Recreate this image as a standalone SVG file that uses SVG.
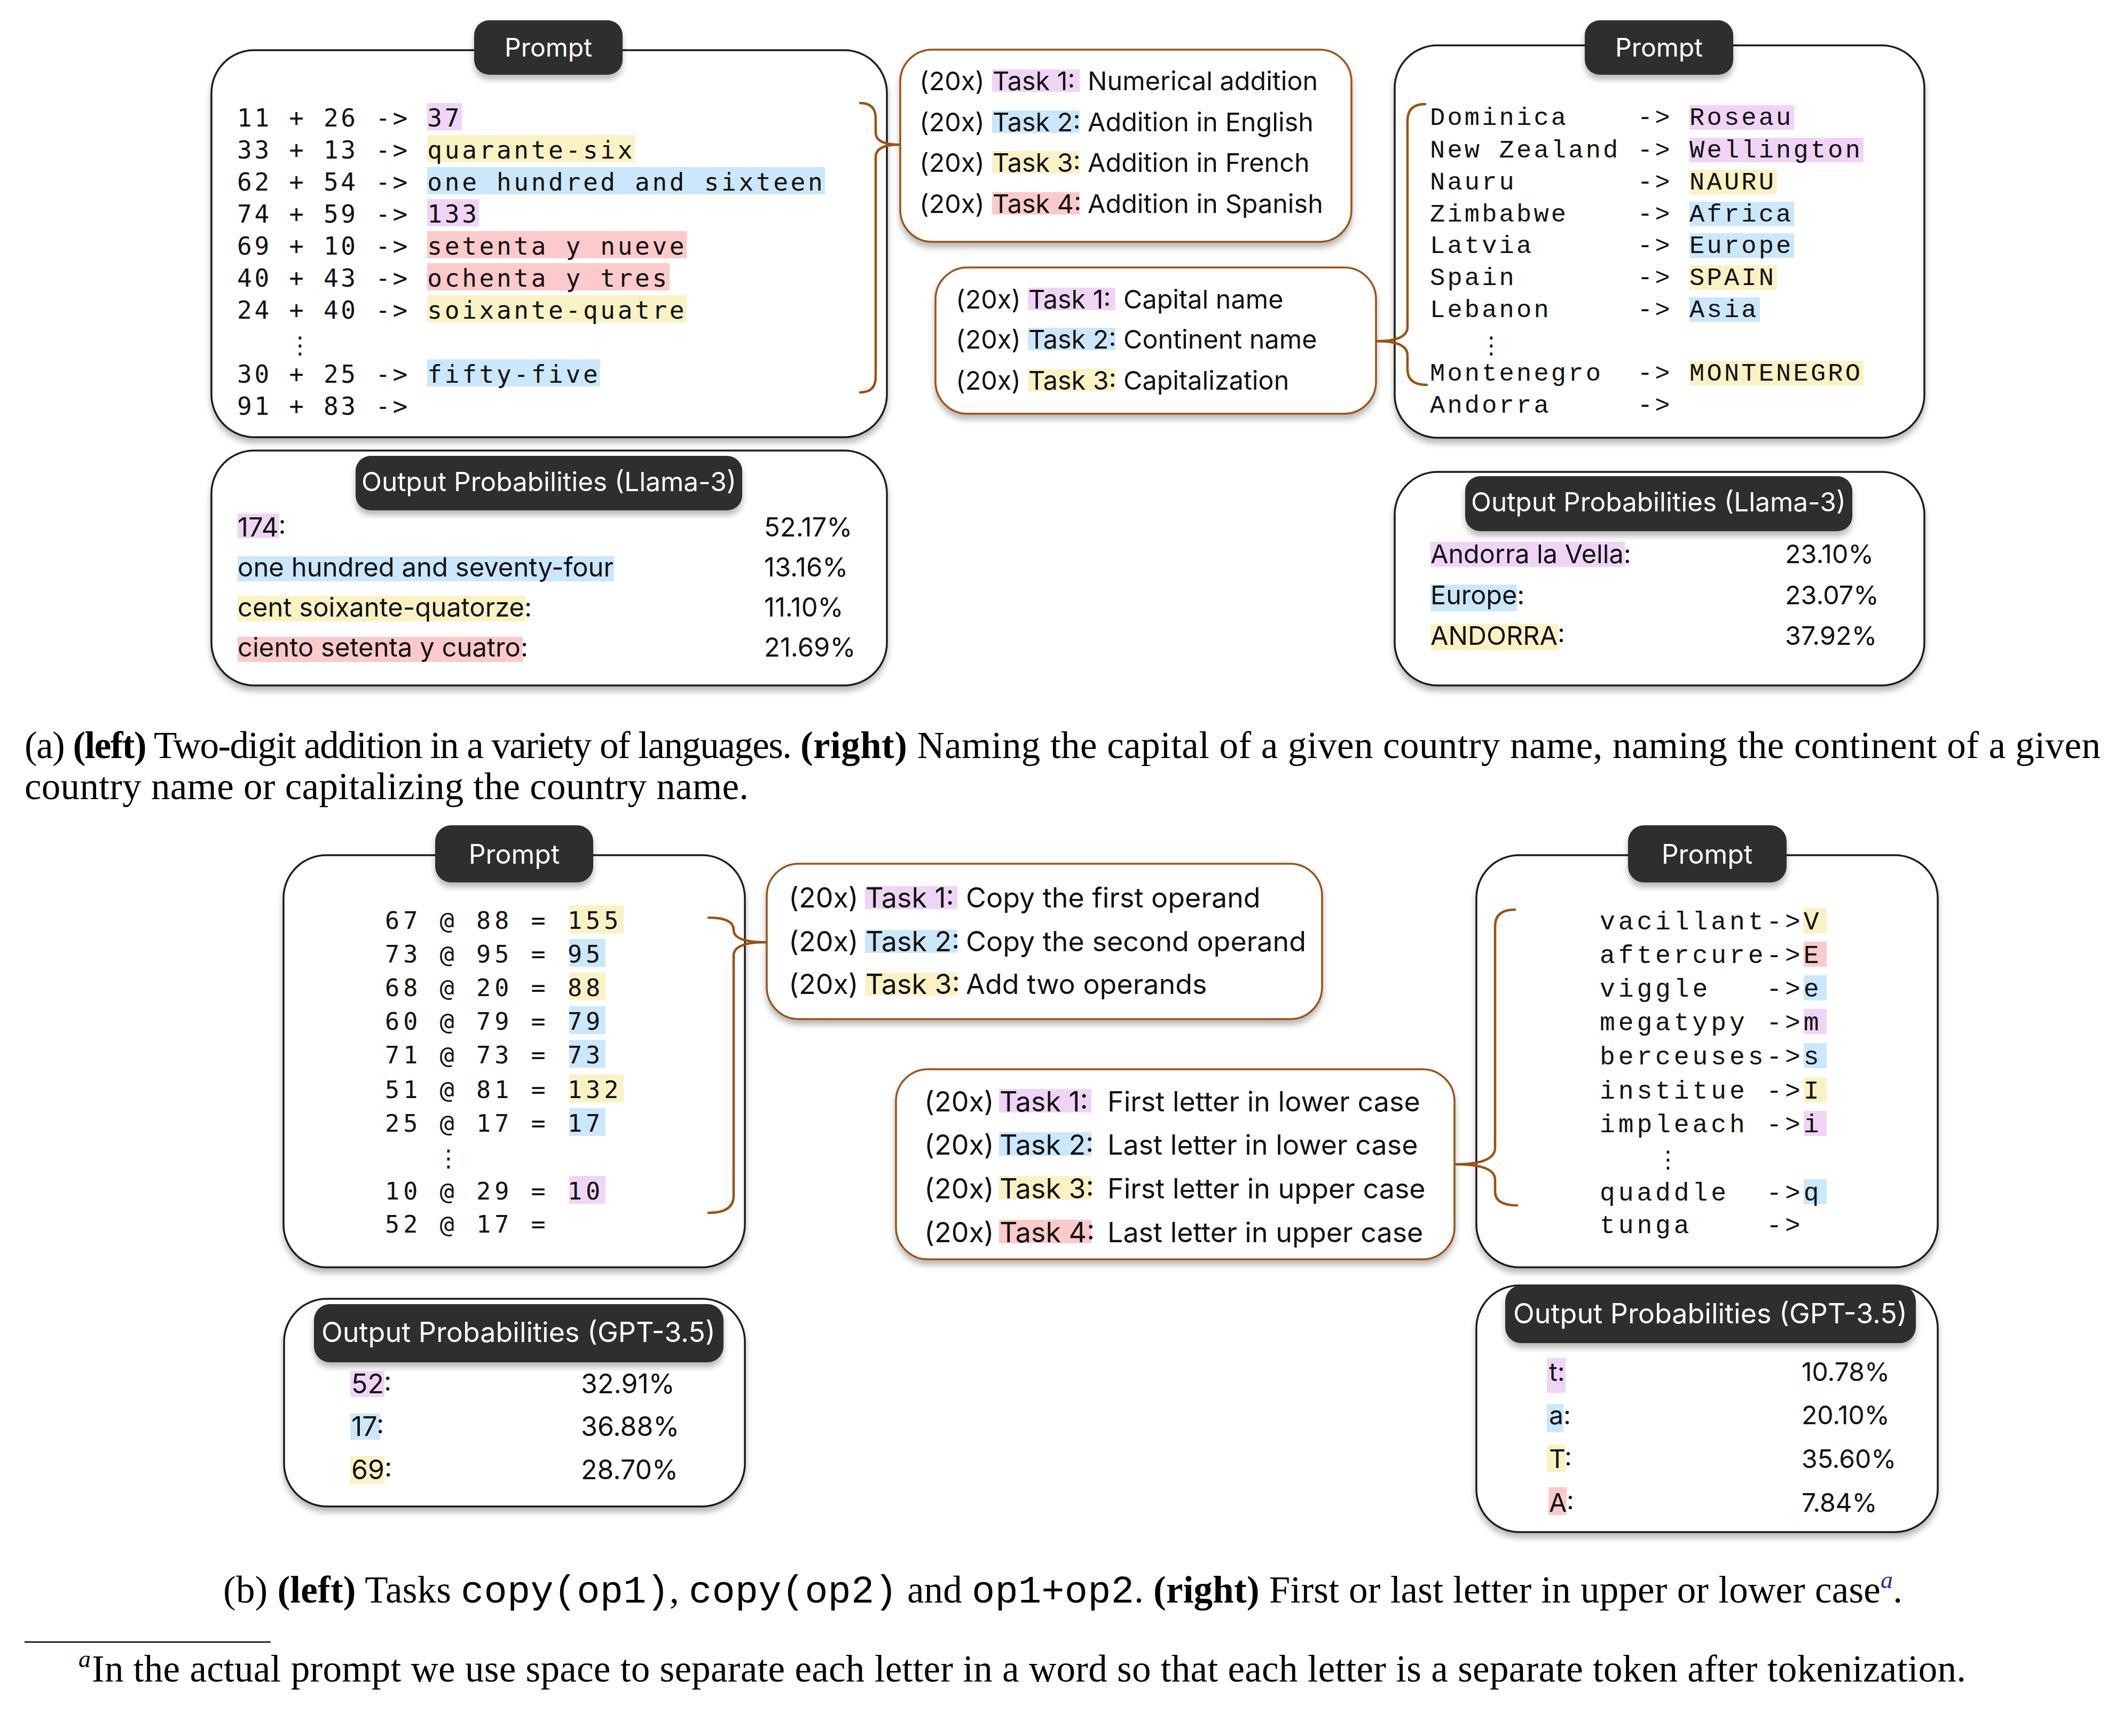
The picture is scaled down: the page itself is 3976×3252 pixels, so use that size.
<svg xmlns="http://www.w3.org/2000/svg" width="3976" height="3252" viewBox="0 0 3976 3252">
<defs>
<filter id="sh" x="-5%" y="-10%" width="110%" height="125%">
<feDropShadow dx="0" dy="9" stdDeviation="6" flood-color="#000" flood-opacity="0.28"/>
</filter>
<style>
.box{fill:#fff;stroke:#1e1e1e;stroke-width:3.5;filter:url(#sh)}
.tbox{fill:#fff;stroke:#9a5212;stroke-width:3.5;filter:url(#sh)}
.lab{fill:#2d2d2d;filter:url(#sh)}
.labt{fill:#fff;font-family:Inter,"Noto Sans",sans-serif;text-anchor:middle}
.m1{font-family:"DejaVu Sans Mono",monospace;fill:#111}
.m2{font-family:"Liberation Mono",monospace;fill:#111}
.sans{font-family:Inter,"Noto Sans",sans-serif;fill:#111}
.dots{font-family:"DejaVu Sans",sans-serif;fill:#111;text-anchor:middle}
.pk{fill:#f0d4f6}.bl{fill:#cbe7fb}.yl{fill:#fbf2c4}.rd{fill:#fccaca}
.brace{fill:none;stroke:#9a5212;stroke-width:4.5;stroke-linecap:round}
.cap{font-family:"Liberation Serif",serif;font-size:71px;fill:#000}
.capm{font-family:"Liberation Mono",monospace;font-size:72px}
.sup{font-style:italic;font-size:46px}
</style>
</defs>
<rect width="3976" height="3252" fill="#fff"/>

<g id="prompt-addition">
<rect class="box" x="396" y="94" width="1265" height="725" rx="80"/>
<rect class="lab" x="888" y="38" width="278" height="102" rx="28"/>
<text class="labt" x="1027" y="106" font-size="48">Prompt</text>
<rect class="pk" x="800" y="193" width="65" height="51"/>
<rect class="yl" x="800" y="253" width="389" height="51"/>
<rect class="bl" x="800" y="313" width="745" height="51"/>
<rect class="pk" x="800" y="373" width="97" height="51"/>
<rect class="rd" x="800" y="433" width="486" height="51"/>
<rect class="rd" x="800" y="493" width="454" height="51"/>
<rect class="yl" x="800" y="553" width="486" height="51"/>
<rect class="bl" x="800" y="673" width="324" height="51"/>
<g class="m1" font-size="46" letter-spacing="4.7">
<text x="444" y="237">11 + 26 -&gt; 37</text>
<text x="444" y="297">33 + 13 -&gt; quarante-six</text>
<text x="444" y="357">62 + 54 -&gt; one hundred and sixteen</text>
<text x="444" y="417">74 + 59 -&gt; 133</text>
<text x="444" y="477">69 + 10 -&gt; setenta y nueve</text>
<text x="444" y="537">40 + 43 -&gt; ochenta y tres</text>
<text x="444" y="597">24 + 40 -&gt; soixante-quatre</text>
<text x="444" y="717">30 + 25 -&gt; fifty-five</text>
<text x="444" y="777">91 + 83 -&gt;</text>
</g>
<text class="dots" x="562" y="662" font-size="44">⋮</text>
</g>

<g id="tasks-addition">
<rect class="tbox" x="1686" y="93" width="845" height="360" rx="60"/>
<rect class="pk" x="1858" y="130" width="164" height="42"/>
<rect class="bl" x="1858" y="207" width="164" height="42"/>
<rect class="yl" x="1858" y="283" width="164" height="42"/>
<rect class="rd" x="1858" y="360" width="164" height="42"/>
<g class="sans" font-size="48.5">
<text x="1722" y="169">(20x)</text><text x="1859" y="169">Task 1:</text><text x="2037" y="169">Numerical addition</text>
<text x="1722" y="246">(20x)</text><text x="1859" y="246">Task 2:</text><text x="2037" y="246">Addition in English</text>
<text x="1722" y="322">(20x)</text><text x="1859" y="322">Task 3:</text><text x="2037" y="322">Addition in French</text>
<text x="1722" y="399">(20x)</text><text x="1859" y="399">Task 4:</text><text x="2037" y="399">Addition in Spanish</text>
</g>
</g>

<g id="tasks-country">
<rect class="tbox" x="1752" y="501" width="825" height="274" rx="60"/>
<rect class="pk" x="1925" y="539" width="164" height="42"/>
<rect class="bl" x="1925" y="614" width="164" height="42"/>
<rect class="yl" x="1925" y="691" width="164" height="42"/>
<g class="sans" font-size="48.5">
<text x="1790" y="578">(20x)</text><text x="1926" y="578">Task 1:</text><text x="2104" y="578">Capital name</text>
<text x="1790" y="653">(20x)</text><text x="1926" y="653">Task 2:</text><text x="2104" y="653">Continent name</text>
<text x="1790" y="730">(20x)</text><text x="1926" y="730">Task 3:</text><text x="2104" y="730">Capitalization</text>
</g>
</g>

<g id="prompt-country">
<rect class="box" x="2612" y="85" width="992" height="735" rx="80"/>
<rect class="lab" x="2968" y="38" width="278" height="102" rx="28"/>
<text class="labt" x="3107" y="106" font-size="48">Prompt</text>
<rect class="pk" x="3164" y="197" width="196" height="46"/>
<rect class="pk" x="3164" y="258" width="326" height="46"/>
<rect class="yl" x="3164" y="318" width="164" height="46"/>
<rect class="bl" x="3164" y="378" width="196" height="46"/>
<rect class="bl" x="3164" y="437" width="196" height="46"/>
<rect class="yl" x="3164" y="497" width="164" height="46"/>
<rect class="bl" x="3164" y="557" width="132" height="46"/>
<rect class="yl" x="3164" y="676" width="326" height="46"/>
<g class="m2" font-size="47" letter-spacing="4.2">
<text x="2678" y="234">Dominica&#160;&#160;&#160;&#160;-&gt;&#160;Roseau</text>
<text x="2678" y="295">New&#160;Zealand&#160;-&gt;&#160;Wellington</text>
<text x="2678" y="355">Nauru&#160;&#160;&#160;&#160;&#160;&#160;&#160;-&gt;&#160;NAURU</text>
<text x="2678" y="415">Zimbabwe&#160;&#160;&#160;&#160;-&gt;&#160;Africa</text>
<text x="2678" y="474">Latvia&#160;&#160;&#160;&#160;&#160;&#160;-&gt;&#160;Europe</text>
<text x="2678" y="534">Spain&#160;&#160;&#160;&#160;&#160;&#160;&#160;-&gt;&#160;SPAIN</text>
<text x="2678" y="594">Lebanon&#160;&#160;&#160;&#160;&#160;-&gt;&#160;Asia</text>
<text x="2678" y="713">Montenegro&#160;&#160;-&gt;&#160;MONTENEGRO</text>
<text x="2678" y="773">Andorra&#160;&#160;&#160;&#160;&#160;-&gt;</text>
</g>
<text class="dots" x="2793" y="662" font-size="44">⋮</text>
</g>

<g id="output-addition">
<rect class="box" x="396" y="844" width="1265" height="440" rx="80"/>
<rect class="lab" x="666" y="854" width="724" height="102" rx="28"/>
<text class="labt" x="1028" y="920" font-size="49.5">Output Probabilities (Llama-3)</text>
<rect class="pk" x="445" y="962" width="78" height="46"/>
<rect class="bl" x="445" y="1042" width="705" height="47"/>
<rect class="yl" x="445" y="1116" width="539" height="48"/>
<rect class="rd" x="445" y="1193" width="534" height="47"/>
<g class="sans" font-size="49">
<text x="445" y="1005">174:</text><text x="1431" y="1005">52.17%</text>
<text x="445" y="1080">one hundred and seventy-four</text><text x="1431" y="1080">13.16%</text>
<text x="445" y="1155">cent soixante-quatorze:</text><text x="1431" y="1155">11.10%</text>
<text x="445" y="1230">ciento setenta y cuatro:</text><text x="1431" y="1230">21.69%</text>
</g>
</g>

<g id="output-country">
<rect class="box" x="2612" y="884" width="992" height="400" rx="80"/>
<rect class="lab" x="2744" y="892" width="725" height="103" rx="28"/>
<text class="labt" x="3106" y="958" font-size="49.5">Output Probabilities (Llama-3)</text>
<rect class="pk" x="2679" y="1015" width="364" height="47"/>
<rect class="bl" x="2679" y="1095" width="162" height="50"/>
<rect class="yl" x="2679" y="1168" width="239" height="50"/>
<g class="sans" font-size="48.5">
<text x="2679" y="1055">Andorra la Vella:</text><text x="3343" y="1055">23.10%</text>
<text x="2679" y="1132">Europe:</text><text x="3343" y="1132">23.07%</text>
<text x="2679" y="1208">ANDORRA:</text><text x="3343" y="1208">37.92%</text>
</g>
</g>

<g id="caption-a">
<text class="cap" x="46" y="1420" textLength="1437" lengthAdjust="spacing">(a) <tspan font-weight="bold">(left)</tspan> Two-digit addition in a variety of languages.</text>
<text class="cap" x="1499" y="1420" textLength="2435" lengthAdjust="spacing"><tspan font-weight="bold">(right)</tspan> Naming the capital of a given country name, naming the continent of a given</text>
<text class="cap" x="46" y="1497" textLength="1356" lengthAdjust="spacing">country name or capitalizing the country name.</text>
</g>

<g id="prompt-operands">
<rect class="box" x="531" y="1602" width="864" height="772" rx="80"/>
<rect class="lab" x="815" y="1546" width="296" height="107" rx="30"/>
<text class="labt" x="963" y="1618" font-size="50">Prompt</text>
<rect class="yl" x="1066" y="1696" width="102" height="52"/>
<rect class="bl" x="1066" y="1759" width="68" height="52"/>
<rect class="yl" x="1066" y="1822" width="68" height="52"/>
<rect class="bl" x="1066" y="1885" width="68" height="52"/>
<rect class="bl" x="1066" y="1948" width="68" height="52"/>
<rect class="yl" x="1066" y="2013" width="102" height="52"/>
<rect class="bl" x="1066" y="2076" width="68" height="52"/>
<rect class="pk" x="1066" y="2203" width="68" height="52"/>
<g class="m1" font-size="45" letter-spacing="7.1">
<text x="721" y="1740">67 @ 88 = 155</text>
<text x="721" y="1803">73 @ 95 = 95</text>
<text x="721" y="1866">68 @ 20 = 88</text>
<text x="721" y="1929">60 @ 79 = 79</text>
<text x="721" y="1992">71 @ 73 = 73</text>
<text x="721" y="2057">51 @ 81 = 132</text>
<text x="721" y="2120">25 @ 17 = 17</text>
<text x="721" y="2247">10 @ 29 = 10</text>
<text x="721" y="2309">52 @ 17 =</text>
</g>
<text class="dots" x="840" y="2185" font-size="44">⋮</text>
</g>

<g id="tasks-operands">
<rect class="tbox" x="1436" y="1618" width="1040" height="291" rx="60"/>
<rect class="pk" x="1620" y="1660" width="173" height="43"/>
<rect class="bl" x="1620" y="1742" width="173" height="43"/>
<rect class="yl" x="1620" y="1822" width="173" height="43"/>
<g class="sans" font-size="52">
<text x="1477" y="1700">(20x)</text><text x="1621" y="1700">Task 1:</text><text x="1809" y="1700">Copy the first operand</text>
<text x="1477" y="1782">(20x)</text><text x="1621" y="1782">Task 2:</text><text x="1809" y="1782">Copy the second operand</text>
<text x="1477" y="1862">(20x)</text><text x="1621" y="1862">Task 3:</text><text x="1809" y="1862">Add two operands</text>
</g>
</g>

<g id="tasks-letters">
<rect class="tbox" x="1678" y="2003" width="1046" height="356" rx="60"/>
<rect class="pk" x="1871" y="2040" width="173" height="44"/>
<rect class="bl" x="1871" y="2121" width="173" height="44"/>
<rect class="yl" x="1871" y="2203" width="173" height="44"/>
<rect class="rd" x="1871" y="2285" width="173" height="44"/>
<g class="sans" font-size="52">
<text x="1731" y="2082">(20x)</text><text x="1872" y="2082">Task 1:</text><text x="2074" y="2082">First letter in lower case</text>
<text x="1731" y="2163">(20x)</text><text x="1872" y="2163">Task 2:</text><text x="2074" y="2163">Last letter in lower case</text>
<text x="1731" y="2245">(20x)</text><text x="1872" y="2245">Task 3:</text><text x="2074" y="2245">First letter in upper case</text>
<text x="1731" y="2327">(20x)</text><text x="1872" y="2327">Task 4:</text><text x="2074" y="2327">Last letter in upper case</text>
</g>
</g>

<g id="prompt-letters">
<rect class="box" x="2765" y="1602" width="864" height="772" rx="80"/>
<rect class="lab" x="3049" y="1546" width="297" height="107" rx="30"/>
<text class="labt" x="3197" y="1618" font-size="50">Prompt</text>
<rect class="yl" x="3378" y="1701" width="43" height="47"/>
<rect class="rd" x="3378" y="1764" width="43" height="47"/>
<rect class="bl" x="3378" y="1827" width="43" height="47"/>
<rect class="pk" x="3378" y="1890" width="43" height="47"/>
<rect class="bl" x="3378" y="1954" width="43" height="47"/>
<rect class="yl" x="3378" y="2018" width="43" height="47"/>
<rect class="pk" x="3378" y="2081" width="43" height="47"/>
<rect class="bl" x="3378" y="2209" width="43" height="47"/>
<g class="m2" font-size="48" letter-spacing="5.9">
<text x="2996" y="1741">vacillant-&gt;V</text>
<text x="2996" y="1804">aftercure-&gt;E</text>
<text x="2996" y="1867">viggle&#160;&#160;&#160;-&gt;e</text>
<text x="2996" y="1930">megatypy&#160;-&gt;m</text>
<text x="2996" y="1994">berceuses-&gt;s</text>
<text x="2996" y="2058">institue&#160;-&gt;I</text>
<text x="2996" y="2121">impleach&#160;-&gt;i</text>
<text x="2996" y="2249">quaddle&#160;&#160;-&gt;q</text>
<text x="2996" y="2310">tunga&#160;&#160;&#160;&#160;-&gt;</text>
</g>
<text class="dots" x="3124" y="2187" font-size="44">⋮</text>
</g>

<g id="output-operands">
<rect class="box" x="532" y="2433" width="863" height="389" rx="80"/>
<rect class="lab" x="588" y="2443" width="767" height="109" rx="30"/>
<text class="labt" x="971" y="2514" font-size="52">Output Probabilities (GPT-3.5)</text>
<rect class="pk" x="656" y="2568" width="64" height="49"/>
<rect class="bl" x="656" y="2648" width="56" height="49"/>
<rect class="yl" x="656" y="2727" width="64" height="53"/>
<g class="sans" font-size="50">
<text x="658" y="2610">52:</text><text x="1088" y="2610">32.91%</text>
<text x="658" y="2690">17:</text><text x="1088" y="2690">36.88%</text>
<text x="658" y="2771">69:</text><text x="1088" y="2771">28.70%</text>
</g>
</g>

<g id="output-letters">
<rect class="box" x="2765" y="2408" width="864" height="462" rx="80"/>
<rect class="lab" x="2819" y="2408" width="769" height="108" rx="30"/>
<text class="labt" x="3203" y="2479" font-size="52">Output Probabilities (GPT-3.5)</text>
<rect class="pk" x="2897" y="2544" width="35" height="65"/>
<rect class="bl" x="2897" y="2630" width="31" height="53"/>
<rect class="yl" x="2897" y="2706" width="35" height="52"/>
<rect class="rd" x="2900" y="2786" width="34" height="52"/>
<g class="sans" font-size="48">
<text x="2901" y="2587">t:</text><text x="3374" y="2587">10.78%</text>
<text x="2901" y="2668">a:</text><text x="3374" y="2668">20.10%</text>
<text x="2901" y="2750">T:</text><text x="3374" y="2750">35.60%</text>
<text x="2901" y="2832">A:</text><text x="3374" y="2832">7.84%</text>
</g>
</g>

<g id="caption-b">
<text class="cap" x="418" y="3002" textLength="3145" lengthAdjust="spacing">(b) <tspan font-weight="bold">(left)</tspan> Tasks <tspan class="capm">copy(op1)</tspan>, <tspan class="capm">copy(op2)</tspan> and <tspan class="capm">op1+op2</tspan>. <tspan font-weight="bold">(right)</tspan> First or last letter in upper or lower case<tspan class="sup" dy="-27" fill="#2b2b9e">a</tspan><tspan dy="27">.</tspan></text>
<line x1="46" y1="3076" x2="507" y2="3076" stroke="#000" stroke-width="2.5"/>
<text class="cap sup" x="147" y="3123">a</text>
<text class="cap" x="172" y="3150" textLength="3510" lengthAdjust="spacing">In the actual prompt we use space to separate each letter in a word so that each letter is a separate token after tokenization.</text>
</g>

<g id="connectors">
<path class="brace" d="M1611,193 Q1640,193 1640,222 L1640,248 Q1640,271 1684,271 M1684,271 Q1640,271 1640,294 L1640,706 Q1640,735 1611,735"/>
<path class="brace" d="M2669,195 Q2636,195 2636,226 L2636,612 Q2636,639 2579,639 M2579,639 Q2636,639 2636,666 L2636,692 Q2636,721 2672,721"/>
<path class="brace" d="M1327,1719 Q1374,1719 1374,1742 Q1374,1765 1434,1765 M1434,1765 Q1374,1765 1374,1790 L1374,2240 Q1374,2272 1327,2272"/>
<path class="brace" d="M2837,1704 Q2800,1704 2800,1735 L2800,2150 Q2800,2181 2726,2181 M2726,2181 Q2800,2181 2800,2210 L2800,2232 Q2800,2258 2841,2258"/>
</g>
</svg>
